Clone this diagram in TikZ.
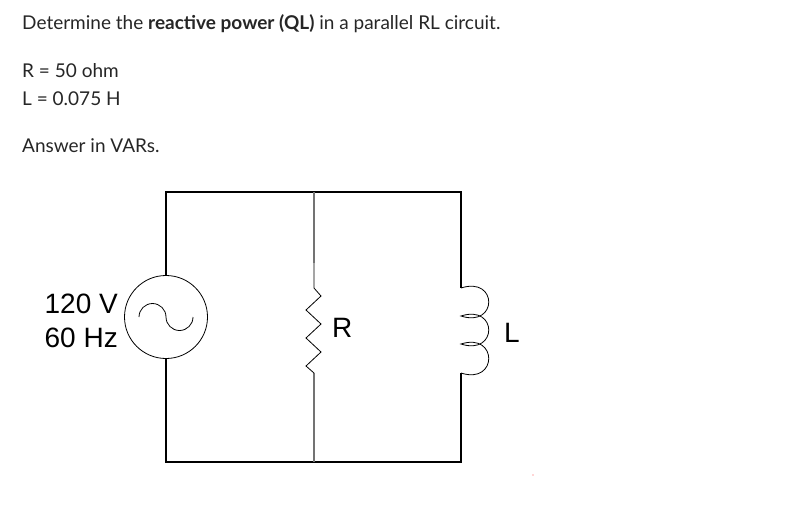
\documentclass[tikz,border=0pt]{standalone}
\usepackage{fontspec}
\setmainfont{Lato}
\newfontfamily\arialf{Liberation Sans}
\begin{document}
\begin{tikzpicture}[x=1pt,y=-1pt,
  wire/.style={line width=1.2pt,black},
  thin/.style={line width=0.8pt,black},
  body/.style={anchor=base west,inner sep=0pt,font=\fontsize{19}{22}\selectfont,text=black!85},
  lab/.style={inner sep=0pt,font=\arialf\fontsize{28}{32}\selectfont}]
\useasboundingbox (0,0) rectangle (800,515);
\node[body] (t1) at (22,29) {Determine the \textbf{reactive power (QL)} in a parallel RL circuit.};
\node[body] (t2) at (22,77) {R = 50 ohm};
\node[body] (t3) at (22,105) {L = 0.075 H};
\node[body] (t4) at (22,152) {Answer in VARs.};
% nodes
\coordinate (tl) at (166,192); \coordinate (tm) at (314,192); \coordinate (tr) at (461,192);
\coordinate (bl) at (166,462); \coordinate (bm) at (314,462); \coordinate (br) at (461,462);
\node[circle,draw,thin,minimum size=83pt,inner sep=0pt] (src) at (166,317) {};
\coordinate (r1) at (314,288); \coordinate (r2) at (314,373);
\coordinate (l1) at (461,288); \coordinate (l2) at (461,373);
\draw[wire] (src.north) -- (tl) -- (tr) -- (l1);
\draw[wire] (src.south) -- (bl) -- (br) -- (l2);
\draw[wire,black!55] (tm) -- (314,263) (bm) -- (r2);
\draw[thin] (314,263) -- (r1) -- (321,296) -- (306,310) -- (321,324) -- (306,338) -- (321,352) -- (306,366) -- (r2);
% sine
\draw[thin] (139,317) arc[start angle=180,end angle=360,radius=13.5] arc[start angle=180,end angle=0,radius=13.5];
% inductor
\coordinate (m1) at (461,316); \coordinate (m2) at (461,344);
\draw[thin] (l1) .. controls (498,276) and (498,328) .. (m1)
  .. controls (498,304) and (498,356) .. (m2)
  .. controls (498,332) and (498,385) .. (l2);
\node[lab,anchor=base east] (v) at (118,313) {120 V};
\node[lab,anchor=base east] (f) at (118,347) {60 Hz};
\node[lab,anchor=base west] (R) at (332,337) {R};
\node[lab,anchor=base west] (Ll) at (504,342) {L};
\fill[red!70] (533,475) circle (0.7);
\end{tikzpicture}
\end{document}
